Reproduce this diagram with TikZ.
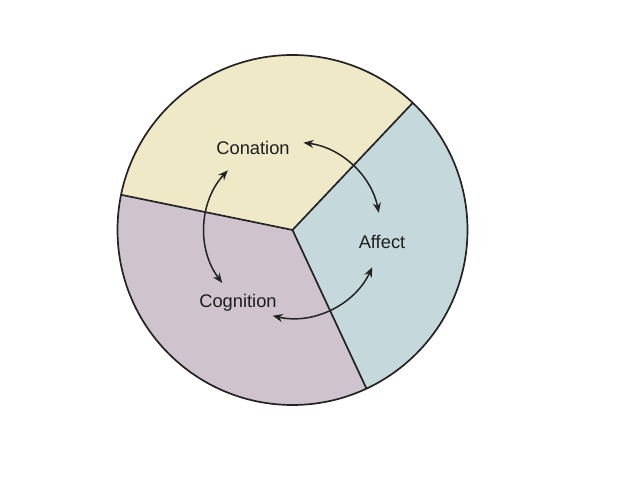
\documentclass[tikz,border=0pt]{standalone}
\usepackage{fontspec}
\setmainfont{Liberation Sans}
\usetikzlibrary{arrows.meta,calc}
\definecolor{conC}{RGB}{239,233,200}
\definecolor{cogC}{RGB}{207,195,205}
\definecolor{affC}{RGB}{197,216,220}
\definecolor{lineC}{RGB}{35,35,35}
\definecolor{txtC}{RGB}{30,30,30}
\tikzset{
  edge/.style={draw=lineC,line width=1.7pt,line join=round},
  lbl/.style={text=txtC,font=\fontsize{18.3}{22}\selectfont,inner sep=0pt},
  cyc/.style={draw=lineC,line width=1.5pt,{Stealth[length=10pt,width=8pt]}-{Stealth[length=10pt,width=8pt]}}
}
\begin{document}
\begin{tikzpicture}[x=1pt,y=1pt]
\useasboundingbox (0,0) rectangle (638,479);
\fill[white] (0,0) rectangle (638,479);
\coordinate (c) at (292.5,249);
\def\R{175}
% sectors
\fill[conC] (c) -- ++(46.6:\R) arc[start angle=46.6,end angle=168.4,radius=\R] -- cycle;
\fill[cogC] (c) -- ++(168.4:\R) arc[start angle=168.4,end angle=295,radius=\R] -- cycle;
\fill[affC] (c) -- ++(-65:\R) arc[start angle=-65,end angle=46.6,radius=\R] -- cycle;
% dividers
\coordinate (p1) at ($(c)+(46.6:\R)$);
\coordinate (p2) at ($(c)+(168.4:\R)$);
\coordinate (p3) at ($(c)+(-65:\R)$);
\draw[edge] (p1) -- (c) -- (p2);
\draw[edge] (c) -- (p3);
\draw[edge] (c) circle[radius=\R];
% labels
\node[lbl] (con) at (253,331) {Conation};
\node[lbl] (aff) at (382,237) {Affect};
\node[lbl] (cog) at (238,176) {Cognition};
% cycle arrows
\def\r{88}
\coordinate (a1) at ($(c)+(82.8:\r)$);
\coordinate (a2) at ($(c)+(137.3:\r)$);
\coordinate (a3) at ($(c)+(257:\r)$);
\draw[cyc] (a1) arc[start angle=82.8,end angle=11.3,radius=\r];
\draw[cyc] (a2) arc[start angle=137.3,end angle=217,radius=\r];
\draw[cyc] (a3) arc[start angle=257,end angle=335,radius=\r];
\end{tikzpicture}
\end{document}
